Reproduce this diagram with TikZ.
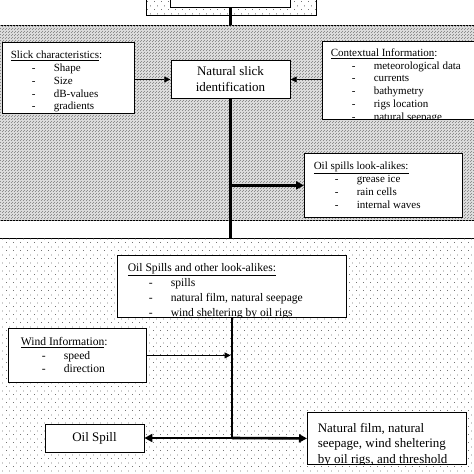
\documentclass[tikz,border=0pt]{standalone}
\usepackage{fontspec}
\setmainfont{Liberation Serif}
\usetikzlibrary{patterns.meta,arrows.meta}

\tikzdeclarepattern{name=densedots,type=uncolored,bottom left={(0pt,0pt)},top right={(3pt,3pt)},tile size={(3pt,3pt)},
  code={\fill (0pt,0pt) rectangle (1.1pt,1.1pt); \fill (1.5pt,1.5pt) rectangle (2.6pt,2.6pt);}}
\tikzdeclarepattern{name=sparsedots,type=uncolored,bottom left={(0pt,0pt)},top right={(7pt,8pt)},tile size={(7pt,8pt)},
  code={\fill (0pt,0pt) rectangle (0.9pt,0.9pt); \fill (3.5pt,4pt) rectangle (4.4pt,4.9pt);}}

\newcommand\dashitem[1]{\hspace*{21pt}\makebox[22pt][l]{-}#1}

\tikzset{
  box/.style={draw, fill=white, line width=0.8pt, inner sep=0pt, anchor=north west},
  plain/.style={draw=none, fill=none, minimum width=0pt, minimum height=0pt, inner sep=0pt, anchor=north west, align=left},
  listtext/.style={plain, font=\fontsize{11}{12.7}\selectfont},
  listtextb/.style={plain, font=\fontsize{11.6}{15}\selectfont},
  bigtext/.style={font=\fontsize{13}{16}\selectfont, align=center},
  densepanel/.style={draw, line width=0.8pt, fill=black!14, postaction={pattern=densedots, pattern color=black!45}, inner sep=0pt, anchor=north west},
  sparsepanel/.style={draw, line width=0.8pt, fill=white, postaction={pattern=sparsedots, pattern color=black!55}, inner sep=0pt, anchor=north west},
  thickline/.style={line width=2.6pt},
  thickarrow/.style={line width=2.6pt, -{Triangle[length=8pt,width=8pt]}},
  thinarrow/.style={line width=0.7pt, -{Triangle[length=6pt,width=6pt]}, shorten >=0.3pt},
}

\begin{document}
\begin{tikzpicture}[x=1pt,y=-1pt]
\useasboundingbox (0,0) rectangle (474,474);

% panels
\node[sparsepanel, minimum width=170, minimum height=21] (topout) at (146,-6) {};
\node[box, minimum width=120, minimum height=13] (topin) at (170,-6) {};
\node[densepanel, minimum width=490, minimum height=195] (mid) at (-8,25) {};
\node[sparsepanel, minimum width=490, minimum height=250] (low) at (-8,238) {};

% middle panel boxes
\node[box, minimum width=132, minimum height=71,
  path picture={\node[listtext] at ([shift={(8,8.5)}]path picture bounding box.north west)
  {\underline{Slick characteristics}:\\ \dashitem{Shape}\\ \dashitem{Size}\\ \dashitem{dB-values}\\ \dashitem{gradients}};}]
  (slick) at (2,42) {};

\node[box, minimum width=119, minimum height=38, bigtext, anchor=center] (nsi) at (230.5,79.5)
  {Natural slick\\identification};

\node[box, minimum width=156, minimum height=78,
  path picture={\node[listtext] at ([shift={(8,7)}]path picture bounding box.north west)
  {\underline{Contextual Information}:\\ \dashitem{meteorological data}\\ \dashitem{currents}\\ \dashitem{bathymetry}\\ \dashitem{rigs location}\\ \dashitem{natural seepage}};}]
  (ctx) at (322,41) {};

\node[box, minimum width=158, minimum height=64,
  path picture={\node[listtext] at ([shift={(9,8.5)}]path picture bounding box.north west)
  {\underline{Oil spills look-alikes:}\\ \dashitem{grease ice}\\ \dashitem{rain cells}\\ \dashitem{internal waves}};}]
  (la) at (304,153) {};

% lower panel boxes
\node[box, minimum width=229, minimum height=62,
  path picture={\node[listtextb] at ([shift={(10,7.5)}]path picture bounding box.north west)
  {\underline{Oil Spills and other look-alikes:}\\ \dashitem{spills}\\ \dashitem{natural film, natural seepage}\\ \dashitem{wind sheltering by oil rigs}};}]
  (others) at (117,255) {};

\node[box, minimum width=138, minimum height=54,
  path picture={\node[listtextb, font=\fontsize{11.6}{13.6}\selectfont] at ([shift={(12,8.5)}]path picture bounding box.north west)
  {\underline{Wind Information}:\\ \dashitem{speed}\\ \dashitem{direction}};}]
  (wind) at (8,328) {};

\node[box, minimum width=99, minimum height=28, bigtext, anchor=center] (ospill) at (94.5,438) {Oil Spill};

\node[box, minimum width=159, minimum height=52,
  path picture={\node[plain, font=\fontsize{13}{15.5}\selectfont]
  at ([shift={(10,10.5)}]path picture bounding box.north west)
  {Natural film, natural\\seepage, wind sheltering\\by oil rigs, and threshold};}]
  (nf) at (307,412) {};

% connectors
\coordinate (j1) at (nsi.south |- la.west);
\coordinate (j3) at (others.south |- ospill.east);

\draw[thickline] (topin.south) -- (topin.south |- mid.north);
\draw[thickline] (nsi.south) -- (nsi.south |- low.north);
\draw[thickarrow] (j1) -- (la.west);
\draw[thinarrow] (slick.east |- nsi.west) -- (nsi.west);
\draw[thinarrow] (ctx.west |- nsi.east) -- (nsi.east);
\draw[thickline] (others.south) -- (j3);
\draw[thinarrow, shorten >=1.3pt] (wind.east) -- (wind.east -| j3);
\draw[thickarrow] (j3) -- (ospill.east);
\draw[thickarrow] (j3) -- (nf.west);
\end{tikzpicture}
\end{document}
